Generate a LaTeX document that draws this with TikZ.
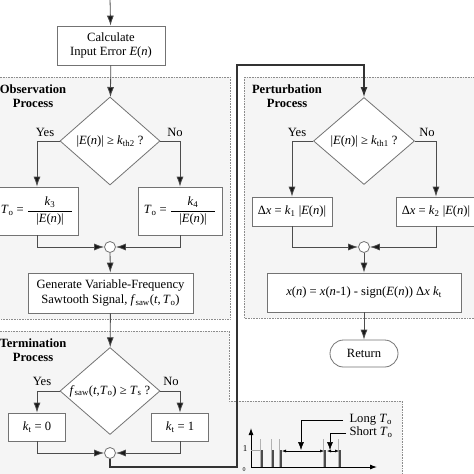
\documentclass[tikz,border=0pt]{standalone}
\usepackage{fontspec}
\setmainfont{Liberation Serif}
\usepackage{tikz}
\usetikzlibrary{arrows.meta}
\usetikzlibrary{shapes.geometric}

\definecolor{boxgray}{gray}{0.45}
\definecolor{linegray}{gray}{0.3}
\newcommand{\ratio}[2]{$\displaystyle\frac{\hbox to 44pt{\hss#1\hss}}{\hbox{#2}}$}
\newcommand{\En}{|\textit{E}(\textit{n})|}

\begin{document}
\begin{tikzpicture}[x=1pt,y=-1pt,
    every node/.style={font=\fontsize{12.6}{14.5}\selectfont},
    box/.style={rectangle,draw=boxgray,fill=white,line width=0.8pt,align=center,inner sep=2pt},
    test/.style={diamond,draw=boxgray,fill=white,line width=0.8pt,inner sep=0pt,aspect=1.15},
    merge/.style={circle,draw=boxgray,fill=white,line width=0.8pt,minimum size=11pt,inner sep=0pt},
    region/.style={draw=black!45,fill=black!4,densely dotted,line width=0.6pt},
    title/.style={font=\fontsize{12.6}{14.5}\selectfont\bfseries,align=center},
    flow/.style={draw=linegray,line width=0.8pt,-{Latex[length=10pt,width=7pt,fill=black!90]}},
    loopline/.style={draw=black!80,line width=1.3pt,-{Latex[length=10pt,width=7pt,fill=black!90]}},
    dim/.style={line width=0.5pt,{Latex[length=4pt,width=3pt]}-{Latex[length=4pt,width=3pt]}},
    lead/.style={line width=0.5pt,-{Latex[length=8pt,width=6pt]}},
]
  \useasboundingbox (0,0) rectangle (474,474);
  \clip (0,0) rectangle (474,474);

  \path[region] (-5,77) rectangle (230,319);
  \path[region] (-5,331) -- (229,331) -- (229,401) -- (402,401) -- (402,480) -- (-5,480) -- cycle;
  \path[region] (244,77) rectangle (480,318);

  \node[title] (obst)  at (33,96)   {Observation\\Process};
  \node[title] (termt) at (33,350)  {Termination\\Process};
  \node[title] (pert)  at (287,96)  {Perturbation\\Process};

  \coordinate (in) at (110,-2);
  \node[box,minimum width=108pt,minimum height=39pt] (calc) at (111,45.5) {Calculate\\Input Error \textit{E}(\textit{n})};

  \node[test,minimum width=100pt,minimum height=88pt] (obsq) at (110,141) {\En{} ≥ \textit{k}\textsubscript{th2} ?};
  \node (obsyes) at (45,132)  {Yes};
  \node (obsno)  at (175,132) {No};
  \node[box,minimum width=82pt,minimum height=48pt] (obsl) at (37,211) {\textit{T}\textsubscript{o} = \ratio{\textit{k}\textsubscript{3}}{\En}};
  \node[box,minimum width=84pt,minimum height=48pt] (obsr) at (180,211) {\textit{T}\textsubscript{o} = \ratio{\textit{k}\textsubscript{4}}{\En}};
  \node[merge] (obsm) at (110,247) {};
  \node[box,minimum width=165pt,minimum height=40pt] (saw) at (110.5,293) {Generate Variable-Frequency\\Sawtooth Signal, \textit{f}\textsubscript{saw}(\textit{t},\,\textit{T}\textsubscript{o})};

  \node[test,minimum width=100pt,minimum height=87pt] (termq) at (110,391) {\textit{f}\textsubscript{saw}(\textit{t},\textit{T}\textsubscript{o}) ≥ \textit{T}\textsubscript{s} ?};
  \node (termyes) at (42,381)  {Yes};
  \node (termno)  at (171,381) {No};
  \node[box,minimum width=57pt,minimum height=28pt] (terml) at (37,427)  {\textit{k}\textsubscript{t} = 0};
  \node[box,minimum width=57pt,minimum height=28pt] (termr) at (180,427) {\textit{k}\textsubscript{t} = 1};
  \node[merge] (termm) at (110,453) {};

  \node[test,minimum width=101pt,minimum height=87pt] (perq) at (364,141) {\En{} ≥ \textit{k}\textsubscript{th1} ?};
  \node (peryes) at (297,132) {Yes};
  \node (perno)  at (427,132) {No};
  \node[box,minimum width=80pt,minimum height=29pt] (perl) at (292,211.5) {Δ\textit{x} = \textit{k}\textsubscript{1} \En};
  \node[box,minimum width=80pt,minimum height=29pt] (perr) at (436,211.5) {Δ\textit{x} = \textit{k}\textsubscript{2} \En};
  \node[merge] (perm) at (364,247) {};
  \node[box,minimum width=194pt,minimum height=39pt] (upd) at (364,292.5) {\textit{x}(\textit{n}) = \textit{x}(\textit{n}-1) - sign(\textit{E}(\textit{n})) Δ\textit{x} \textit{k}\textsubscript{t}};
  \node[box,rounded corners=13.5pt,minimum width=68pt,minimum height=27pt] (ret) at (364,353.5) {Return};

  \draw (in) edge[flow] (calc);
  \draw (calc) edge[flow] (obsq);
  \draw[flow] (obsq.west) -| (obsl.north);
  \draw[flow] (obsq.east) -| (obsr.north);
  \draw[flow] (obsl.south) |- (obsm.west);
  \draw[flow] (obsr.south) |- (obsm.east);
  \draw (obsm) edge[flow] (saw);
  \draw (saw) edge[flow] (termq);
  \draw[flow] (termq.west) -| (terml.north);
  \draw[flow] (termq.east) -| (termr.north);
  \draw[flow] (terml.south) |- (termm.west);
  \draw[flow] (termr.south) |- (termm.east);

  \coordinate (loopa) at (237,467);
  \coordinate (loopb) at (237,65);
  \draw[loopline] (termm.south) |- (loopa) -- (loopb) -| (perq.north);

  \draw[flow] (perq.west) -| (perl.north);
  \draw[flow] (perq.east) -| (perr.north);
  \draw[flow] (perl.south) |- (perm.west);
  \draw[flow] (perr.south) |- (perm.east);
  \draw (perm) edge[flow] (upd);
  \draw (upd) edge[flow] (ret);

  \coordinate (o) at (251,467);
  \draw[line width=0.9pt,-{Latex[length=7pt,width=5pt]}] (o) -- (251,428);
  \draw[line width=0.9pt,-{Latex[length=7pt,width=5pt]}] (o) -- (377,467);
  \node[font=\fontsize{9}{10}\selectfont] (one) at (245,449) {1};
  \node[font=\fontsize{6}{7}\selectfont] (zero) at (244,470) {0};
  \draw[black!35,line width=0.4pt] (251,450) -- (262,450);
  \foreach \p in {262,273,281,325,340} {
    \draw[black!30,line width=0.4pt] (\p-1.8,439) -- (\p-1.8,467);
    \draw[black!70,line width=2.2pt] (\p,450) -- (\p,467);
  }
  \draw[dim] (282,451) -- (324,451);
  \draw[dim] (327,451) -- (339,451);
  \draw[lead] (343,420) -| (301,450);
  \draw[lead] (346,433) -| (330,450);
  \node[anchor=west] (long)  at (346,420) {Long \textit{T}\textsubscript{o}};
  \node[anchor=west] (short) at (346,432) {Short \textit{T}\textsubscript{o}};
\end{tikzpicture}
\end{document}
